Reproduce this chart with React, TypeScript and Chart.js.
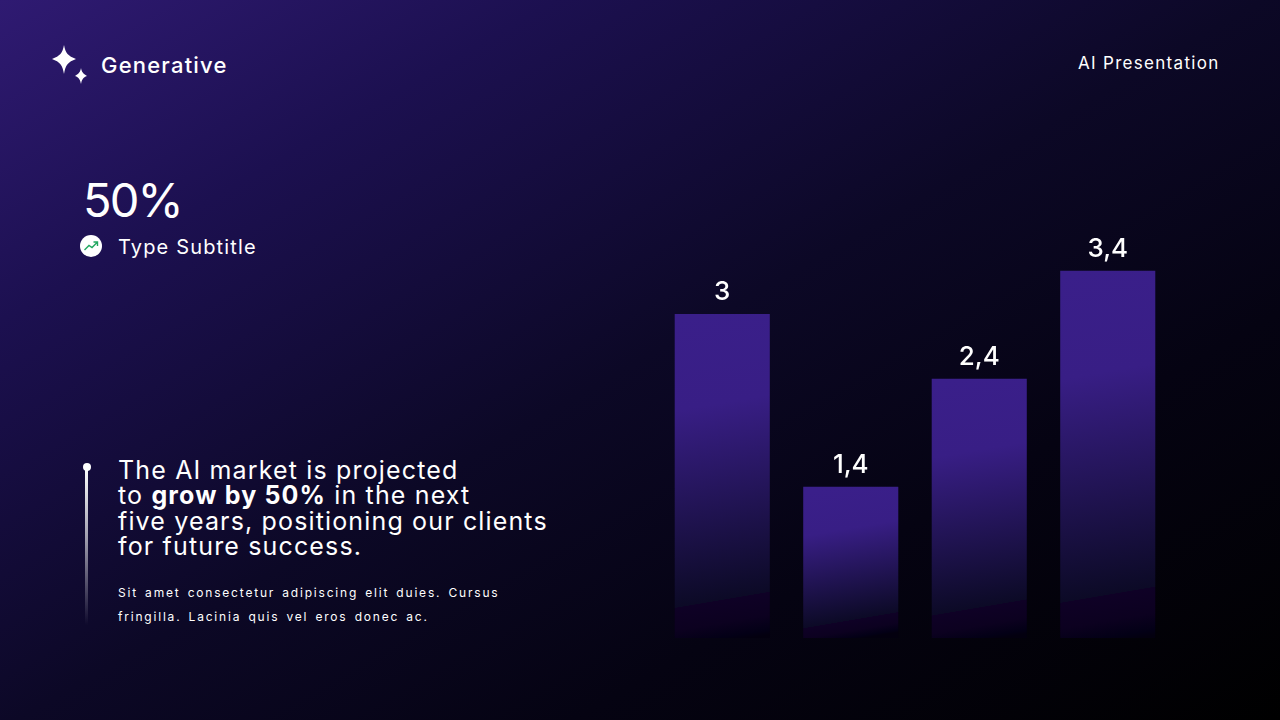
import { useEffect, useRef } from 'react';
import { Chart, registerables } from 'chart.js';

Chart.register(...registerables);

const categories = ['A', 'B', 'C', 'D'];
const values = [3, 1.4, 2.4, 3.4];
const valueLabels = ['3', '1,4', '2,4', '3,4'];

const font = 'Inter, "Noto Sans", sans-serif';

// slanted fade with a hard edge near the bottom, same proportion on every bar
function barFill(context: any) {
  const { chart, dataIndex } = context;
  if (dataIndex === undefined || !chart.chartArea) return '#3a1f8a';
  const { x, y } = chart.scales;
  const ctx = chart.ctx;
  const cx = x.getPixelForValue(dataIndex);
  const top = y.getPixelForValue(values[dataIndex]);
  const base = y.getPixelForValue(0);
  if (!Number.isFinite(cx) || !Number.isFinite(top)) return '#3a1f8a';
  const h = base - top;
  const dx = h * 0.17;
  const g = ctx.createLinearGradient(cx - dx * 0.5, top, cx + dx * 0.5, base);
  g.addColorStop(0, '#3a1f8a');
  g.addColorStop(0.28, '#381e85');
  g.addColorStop(0.871, '#0c0a26');
  g.addColorStop(0.872, '#0f0126');
  g.addColorStop(0.94, '#0c0120');
  g.addColorStop(0.985, '#030016');
  g.addColorStop(1, '#03000f');
  return g;
}

const valueLabelPlugin = {
  id: 'valueLabels',
  afterDatasetsDraw(chart: any) {
    const { ctx, scales } = chart;
    ctx.save();
    ctx.fillStyle = '#ffffff';
    ctx.font = `500 26px ${font}`;
    ctx.textAlign = 'center';
    ctx.textBaseline = 'middle';
    valueLabels.forEach((label, i) => {
      ctx.fillText(label, scales.x.getPixelForValue(i), scales.y.getPixelForValue(values[i]) - 22);
    });
    ctx.restore();
  },
};

export default function App() {
  const canvasRef = useRef<HTMLCanvasElement>(null);

  useEffect(() => {
    document.body.style.margin = '0';
    const chart = new Chart(canvasRef.current!, {
      type: 'bar',
      data: {
        labels: categories,
        datasets: [{ data: values, backgroundColor: barFill, barPercentage: 0.74, categoryPercentage: 1 }],
      },
      options: {
        responsive: false,
        animation: false,
        layout: { padding: 0 },
        plugins: { legend: { display: false }, tooltip: { enabled: false } },
        scales: {
          x: { display: false },
          y: { display: false, min: 0, max: 4 },
        },
      },
      plugins: [valueLabelPlugin],
    });
    return () => chart.destroy();
  }, []);

  const abs = (left: number, top: number, size: number, weight = 400, spacing = 0): React.CSSProperties => ({
    position: 'absolute',
    left,
    top,
    fontSize: size,
    fontWeight: weight,
    letterSpacing: spacing,
    whiteSpace: 'nowrap',
  });

  return (
    <div
      style={{
        position: 'relative',
        width: 1280,
        height: 720,
        overflow: 'hidden',
        color: '#fff',
        fontFamily: font,
        background: 'linear-gradient(150deg, #2f1a72 0%, #1c1050 22%, #0c0826 50%, #050312 72%, #000000 100%)',
      }}
    >
      <svg style={{ position: 'absolute', left: 50, top: 44 }} width="40" height="42" viewBox="0 0 40 42">
        <path d="M14 1 C15.5 9 18 12 26 15 C18 18 15.500 21 14 30 C12.500 21 10 18 2 15 C10 12 12.500 9 14 1Z" fill="#fff" />
        <path d="M31 24 C31.800 28 33 29.500 37 32 C33 33.500 31.800 35.500 31 40 C30.200 35.500 29 33.500 25 32 C29 29.500 30.200 28 31 24Z" fill="#fff" />
      </svg>
      <div style={abs(101, 52, 22, 500, 1.2)}>Generative</div>
      <div style={abs(1078, 53, 17, 400, 1.3)}>AI Presentation</div>
      <div style={abs(83, 171, 47, 400, -1.9)}>50%</div>

      <svg style={{ position: 'absolute', left: 80, top: 234 }} width="22" height="24" viewBox="0 0 22 24">
        <circle cx="11" cy="12" r="11" fill="#fff" />
        <path d="M4.500 16 L9 11.500 L12 13.500 L17 8.500 M13.500 8 L17.500 8 L17.500 12" fill="none" stroke="#22a861" strokeWidth="1.400" />
      </svg>
      <div style={abs(118, 235, 20, 400, 1.15)}>Type Subtitle</div>

      <div
        style={{
          position: 'absolute',
          left: 85,
          top: 467,
          width: 3,
          height: 158,
          background: 'linear-gradient(#ffffff, rgba(255,255,255,0.6) 45%, rgba(255,255,255,0))',
        }}
      />
      <div style={{ position: 'absolute', left: 82.5, top: 463, width: 8, height: 8, borderRadius: 4, background: '#fff' }} />

      <div style={{ ...abs(118, 458, 25, 400, 1.15), lineHeight: '25.300px' }}>
        The AI market is projected
        <br />
        to <b style={{ fontWeight: 700 }}>grow by 50%</b> in the next
        <br />
        five years, positioning our clients
        <br />
        for future success.
      </div>
      <div style={{ ...abs(118, 581, 12, 400, 1.8), lineHeight: '24px', wordSpacing: 2 }}>
        Sit amet consectetur adipiscing elit duies. Cursus
        <br />
        fringilla. Lacinia quis vel eros donec ac.
      </div>

      <canvas ref={canvasRef} width={514} height={432} style={{ position: 'absolute', left: 658, top: 206, width: 514, height: 432 }} />
    </div>
  );
}
